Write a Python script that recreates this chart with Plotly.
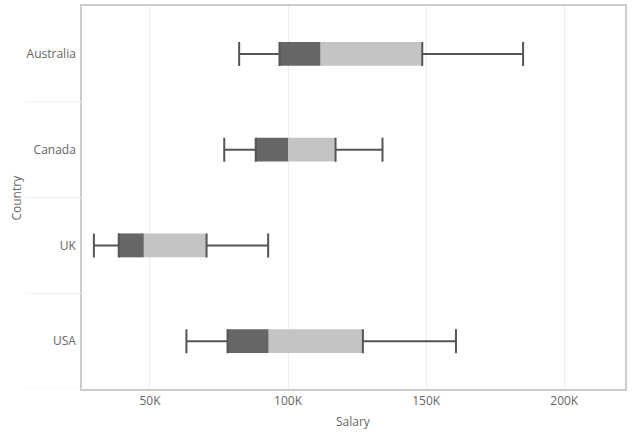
import plotly.graph_objects as go

# box plot data per country (salary)
countries = ["Australia", "Canada", "UK", "USA"]
low = [82300, 76900, 29700, 63200]
q1 = [96900, 88300, 38700, 78100]
median = [111800, 100100, 47800, 93000]
q3 = [148600, 117200, 70500, 127100]
high = [185100, 134200, 92800, 160800]

pos = list(range(len(countries)))
box_w = 0.25
whisker_col = "#555555"

fig = go.Figure()

# onderste helft van de box (q1 -> median)
fig.add_trace(go.Bar(
    y=pos, x=[m - a for m, a in zip(median, q1)], base=q1,
    orientation="h", width=box_w, marker=dict(color="#666666", line=dict(width=0)),
    showlegend=False, hoverinfo="skip"
))

# bovenste helft van de box (median -> q3)
fig.add_trace(go.Bar(
    y=pos, x=[b - m for b, m in zip(q3, median)], base=median,
    orientation="h", width=box_w, marker=dict(color="#c4c4c4", line=dict(width=0)),
    showlegend=False, hoverinfo="skip"
))

# whiskers links
fig.add_trace(go.Scatter(
    x=q1, y=pos, mode="markers", marker=dict(size=1, opacity=0),
    error_x=dict(type="data", symmetric=False, array=[0] * len(pos),
                 arrayminus=[a - l for a, l in zip(q1, low)],
                 color=whisker_col, thickness=2, width=12),
    showlegend=False, hoverinfo="skip"
))

# whiskers rechts
fig.add_trace(go.Scatter(
    x=q3, y=pos, mode="markers", marker=dict(size=1, opacity=0),
    error_x=dict(type="data", symmetric=False, array=[h - b for h, b in zip(high, q3)],
                 arrayminus=[0] * len(pos),
                 color=whisker_col, thickness=2, width=12),
    showlegend=False, hoverinfo="skip"
))

# scheidingslijnen links van de y-as
for i in range(len(countries)):
    fig.add_shape(type="line", xref="paper", yref="y", x0=-0.105, x1=0,
                  y0=i + 0.5, y1=i + 0.5, line=dict(color="#eeeeee", width=1))

# as-titels als annotaties (preciezere positie)
fig.add_annotation(text="Country", xref="paper", yref="paper", x=-0.1215, y=0.5,
                   xanchor="center", yanchor="middle",
                   textangle=-90, showarrow=False, font=dict(size=12, color="#666666"))
fig.add_annotation(text="Salary", xref="paper", yref="paper", x=0.5, y=-0.086,
                   xanchor="center", yanchor="middle",
                   showarrow=False, font=dict(size=12, color="#666666"))

fig.update_layout(
    width=632, height=436,
    margin=dict(l=82, r=7, t=6, b=47),
    paper_bgcolor="white", plot_bgcolor="white",
    barmode="overlay",
    font=dict(family="Open Sans, Noto Sans, sans-serif", size=12, color="#666666"),
    xaxis=dict(
        automargin=False,
        range=[25400, 222000],
        tickvals=[50000, 100000, 150000, 200000],
        ticktext=["50K", "100K", "150K", "200K"],
        showgrid=True, gridcolor="#eeeeee", gridwidth=1,
        zeroline=False,
        showline=True, linecolor="#cccccc", linewidth=1.5, mirror=True,
        ticks="", tickfont=dict(size=12, color="#666666"),
    ),
    yaxis=dict(
        automargin=False,
        range=[3.5, -0.5],
        tickvals=pos, ticktext=countries,
        showgrid=False, zeroline=False,
        showline=True, linecolor="#cccccc", linewidth=1.5, mirror=True,
        ticks="", ticklabelstandoff=2,
        tickfont=dict(size=12, color="#666666"),
    ),
)

# body marge van de browser weghalen
fig.write_html("out.html", config={"displayModeBar": False},
               post_script="document.body.style.margin='0';")
